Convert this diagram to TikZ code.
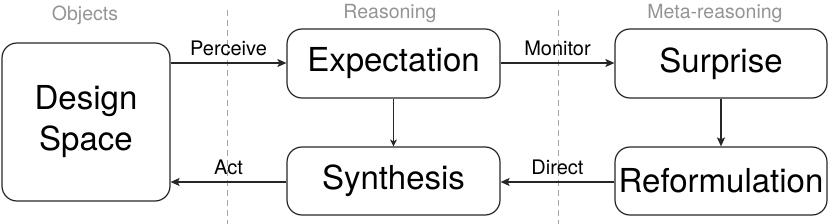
\documentclass[tikz,border=0pt]{standalone}
\usepackage{fontspec}
\setmainfont{TeX Gyre Heros}
\usetikzlibrary{arrows.meta}
\begin{document}
\begin{tikzpicture}[x=1pt,y=-1pt,
  box/.style={draw=black!85,line width=1.2pt,rounded corners=15pt,inner sep=0pt,font=\fontsize{33}{40}\selectfont},
  hdr/.style={text=black!42,font=\fontsize{19.5}{23}\selectfont,inner sep=0pt},
  lbl/.style={font=\fontsize{20}{24}\selectfont,inner sep=0pt,anchor=base},
  conn/.style={draw=black!85,line width=1.4pt,-{Stealth[length=9pt,width=8pt,inset=2pt]}},
  thinconn/.style={draw=black!85,line width=0.9pt,-{Stealth[length=7pt,width=7pt,inset=2pt]}},
  sep/.style={draw=black!35,line width=0.8pt,dash pattern=on 6pt off 4pt}]
\useasboundingbox (0,0) rectangle (832,224);
% separators
\coordinate (s1t) at (227,10); \coordinate (s1b) at (227,224);
\coordinate (s2t) at (558,10); \coordinate (s2b) at (558,224);
\draw[sep] (s1t) -- (s1b);
\draw[sep] (s2t) -- (s2b);
% headers
\node[hdr] (h1) at (85,15) {Objects};
\node[hdr] (h2) at (390,14) {Reasoning};
\node[hdr] (h3) at (715,14) {Meta-reasoning};
% boxes
\node[box,minimum width=168pt,minimum height=158pt,align=center,font=\fontsize{33}{41}\selectfont] (ds) at (86,122) {Design\\Space};
\node[box,minimum width=213pt,minimum height=69pt] (ex) at (393.5,63.5) {Expectation};
\node[box,minimum width=213pt,minimum height=68pt] (sy) at (393.5,181) {Synthesis};
\node[box,minimum width=212pt,minimum height=69pt] (su) at (721,63.5) {Surprise};
\node[box,minimum width=212pt,minimum height=68pt] (re) at (721,181) {Reformulation};
% connectors
\draw[conn] (ds.east |- 0,63) -- node[lbl,above=6pt]{Perceive} (ex.west |- 0,63);
\draw[conn] (sy.west |- 0,182) -- node[lbl,above=6pt]{Act} (ds.east |- 0,182);
\draw[conn] (ex.east |- 0,63) -- node[lbl,above=6pt]{Monitor} (su.west |- 0,63);
\draw[conn] (re.west |- 0,182) -- node[lbl,above=6pt]{Direct} (sy.east |- 0,182);
\draw[thinconn] (ex) -- (sy);
\draw[conn] (su) -- (re);
\end{tikzpicture}
\end{document}
